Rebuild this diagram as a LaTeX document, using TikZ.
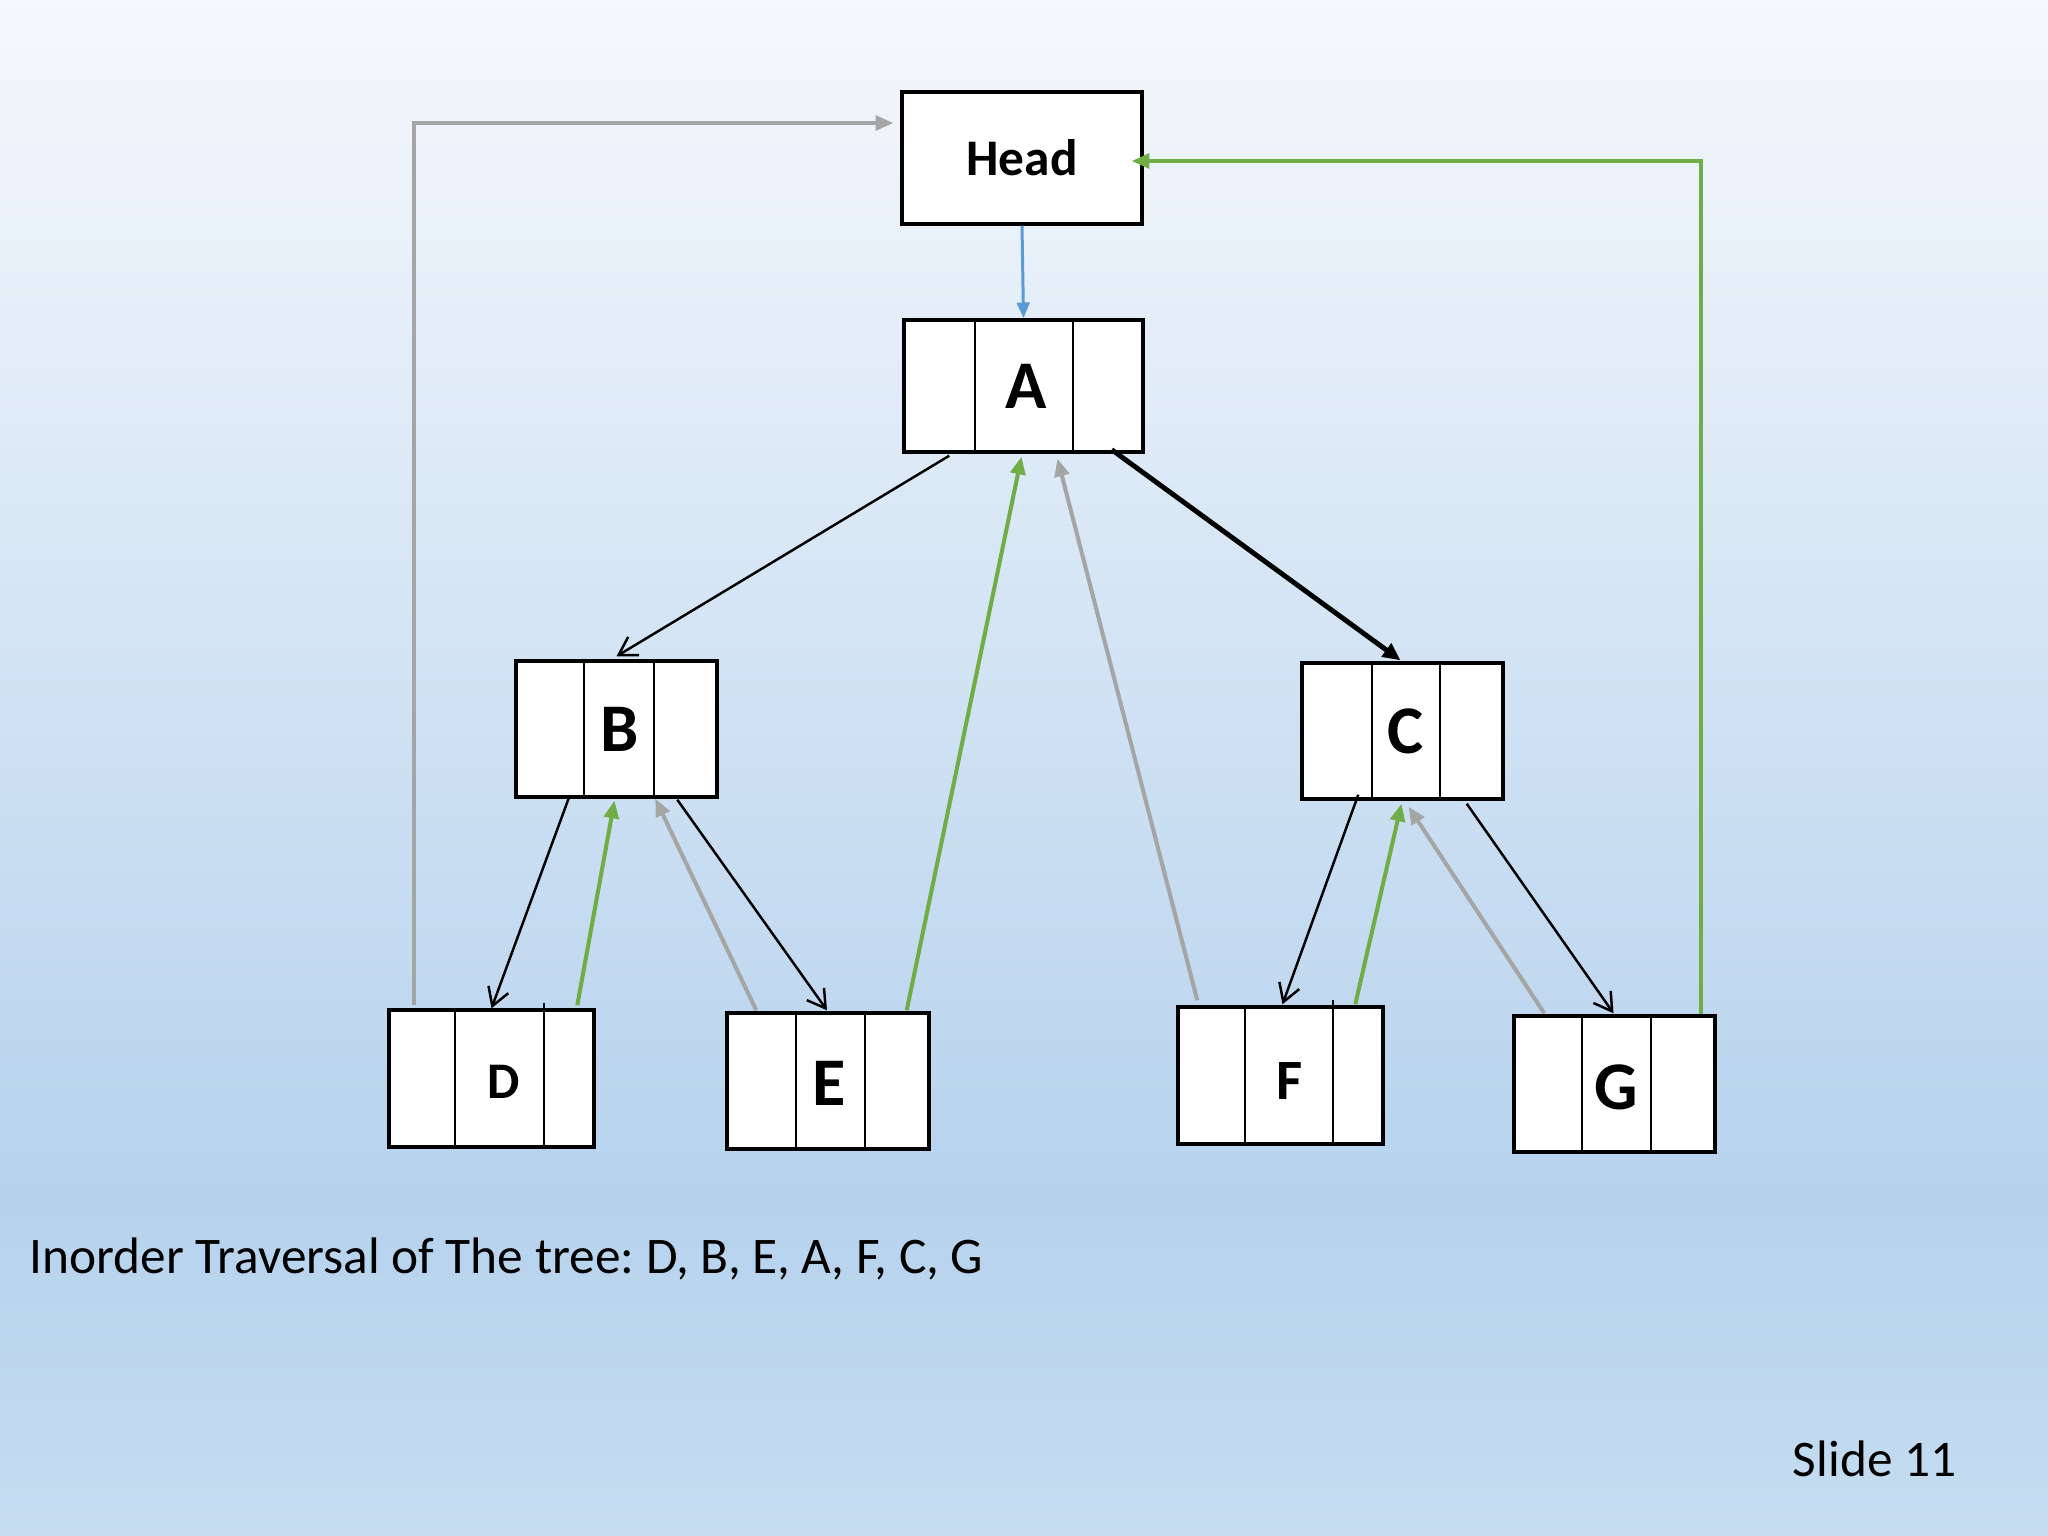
\documentclass[tikz,border=0pt]{standalone}
\usepackage{fontspec}
\setmainfont{Carlito}
\usetikzlibrary{arrows.meta,calc}
\frenchspacing
\definecolor{grn}{HTML}{70AD47}
\definecolor{gry}{HTML}{A5A5A5}
\definecolor{blu}{HTML}{5B9BD5}
\definecolor{bgtop}{HTML}{F5F8FC}
\definecolor{bgmid}{HTML}{B6D2ED}
\definecolor{bgbot}{HTML}{C6DDF1}
\tikzset{
  cellbox/.style={draw=black, line width=0.95pt, fill=white, inner sep=0pt},
  divider/.style={draw=black, line width=0.6pt},
  lbl/.style={font=\bfseries\fontsize{19.4}{22}\selectfont, inner sep=0pt},
  blk/.style={draw=black, line width=0.7pt, -{Straight Barb[length=5pt,width=6pt,line width=0.7pt]}},
  blkthick/.style={draw=black, line width=1.4pt, -{Triangle[length=5pt,width=4.5pt]}},
  grnarr/.style={draw=grn, line width=1.15pt, -{Triangle[length=5pt,width=4.2pt]}},
  gryarr/.style={draw=gry, line width=1.15pt, -{Triangle[length=5pt,width=4.2pt]}},
  bluarr/.style={draw=blu, line width=0.85pt, -{Triangle[length=4.5pt,width=3.6pt]}},
}
\begin{document}
\begin{tikzpicture}[x=0.01cm, y=-0.01cm]
\useasboundingbox (0,0) rectangle (2048,1536);
\shade[top color=bgtop, bottom color=bgmid] (0,0) rectangle (2048,1200);
\shade[top color=bgmid, bottom color=bgbot] (0,1199) rectangle (2048,1536);

% Head
\node[cellbox, minimum width=2.40cm, minimum height=1.32cm,
      font=\bfseries\fontsize{14.6}{17}\selectfont] (Head) at (1022,158) {Head};

% A
\node[cellbox, minimum width=2.39cm, minimum height=1.32cm] (A) at (1023.5,386) {};
\draw[divider] ($(A.north west)+(73,0)$) -- ($(A.south west)+(73,0)$);
\draw[divider] ($(A.north west)+(171,0)$) -- ($(A.south west)+(171,0)$);
\node[lbl] (Al) at (1026,386) {A};

% B
\node[cellbox, minimum width=2.01cm, minimum height=1.36cm] (B) at (616.5,729) {};
\draw[divider] ($(B.north west)+(70,0)$) -- ($(B.south west)+(70,0)$);
\draw[divider] ($(B.north west)+(140,0)$) -- ($(B.south west)+(140,0)$);
\node[lbl] (Bl) at (620,729) {B};

% C
\node[cellbox, minimum width=2.01cm, minimum height=1.36cm] (C) at (1402.5,731) {};
\draw[divider] ($(C.north west)+(72,0)$) -- ($(C.south west)+(72,0)$);
\draw[divider] ($(C.north west)+(140,0)$) -- ($(C.south west)+(140,0)$);
\node[lbl] (Cl) at (1406,731) {C};

% D
\node[cellbox, minimum width=2.05cm, minimum height=1.37cm] (D) at (491.5,1078.5) {};
\draw[divider] ($(D.north west)+(68,0)$) -- ($(D.south west)+(68,0)$);
\draw[divider] ($(D.north west)+(157,-5)$) -- ($(D.south west)+(157,-4)$);
\node[lbl, font=\bfseries\fontsize{14.6}{17}\selectfont] (Dl) at (504,1082) {D};

% E
\node[cellbox, minimum width=2.02cm, minimum height=1.36cm] (E) at (828,1081) {};
\draw[divider] ($(E.north west)+(71,0)$) -- ($(E.south west)+(71,0)$);
\draw[divider] ($(E.north west)+(140,0)$) -- ($(E.south west)+(140,0)$);
\node[lbl] (El) at (829,1083) {E};

% F
\node[cellbox, minimum width=2.05cm, minimum height=1.37cm] (F) at (1280.5,1075.5) {};
\draw[divider] ($(F.north west)+(69,0)$) -- ($(F.south west)+(69,0)$);
\draw[divider] ($(F.north west)+(157,-5)$) -- ($(F.south west)+(157,-4)$);
\node[lbl, font=\bfseries\fontsize{16.2}{19}\selectfont] (Fl) at (1290,1081) {F};

% G
\node[cellbox, minimum width=2.01cm, minimum height=1.36cm] (G) at (1614.5,1084) {};
\draw[divider] ($(G.north west)+(70,0)$) -- ($(G.south west)+(70,0)$);
\draw[divider] ($(G.north west)+(139,0)$) -- ($(G.south west)+(139,0)$);
\node[lbl] (Gl) at (1616,1087) {G};

% connectors
\draw[bluarr] (Head.south) -- (A.north);
\draw[blk] ($(A.south west)+(47,2)$) -- ($(B.north)+(0,-3)$);
\draw[blkthick] ($(A.south east)+(-33,-4)$) -- ($(C.north)+(-2,-1)$);
\draw[grnarr] ($(E.north east)+(-24,-1)$) -- ($(A.south)+(-2,3)$);
\draw[gryarr] ($(F.north west)+(21,-5)$) -- ($(A.south)+(34,5)$);
\draw[blk] ($(B.south west)+(55,-2)$) -- (D.north);
\draw[grnarr] ($(D.north west)+(190,-3)$) -- ($(B.south)+(-2,2)$);
\draw[gryarr] ($(E.north west)+(31,-1)$) -- ($(B.south west)+(141,0)$);
\draw[blk] ($(B.south west)+(163,1)$) -- ($(E.north)+(-1,-1)$);
\draw[blk] ($(C.south west)+(58,-6)$) -- ($(F.north)+(2,-1)$);
\draw[grnarr] ($(F.north west)+(179,-1)$) -- ($(C.south)+(-1,3)$);
\draw[gryarr] ($(G.north west)+(32,-1)$) -- ($(C.south)+(6,6)$);
\draw[blk] ($(C.south east)+(-38,3)$) -- ($(G.north)+(-1,-1)$);
\draw[gryarr, line width=1.05pt] ($(D.north west)+(27,-3)$) |- ($(Head.west)+(-7,-35)$);
\draw[grnarr, line width=1.05pt] ($(G.north east)+(-16,0)$) |- ($(Head.east)+(-12,3)$);

% texts
\node[anchor=base west, inner sep=0pt, font=\fontsize{14.6}{17}\selectfont] (cap) at (29,1273)
  {Inorder Traversal of The tree: D, B, E, A, F, C, G};
\node[anchor=base east, inner sep=0pt, font=\fontsize{14.6}{17}\selectfont] (slide) at (1957,1476)
  {Slide 11};
\end{tikzpicture}
\end{document}
